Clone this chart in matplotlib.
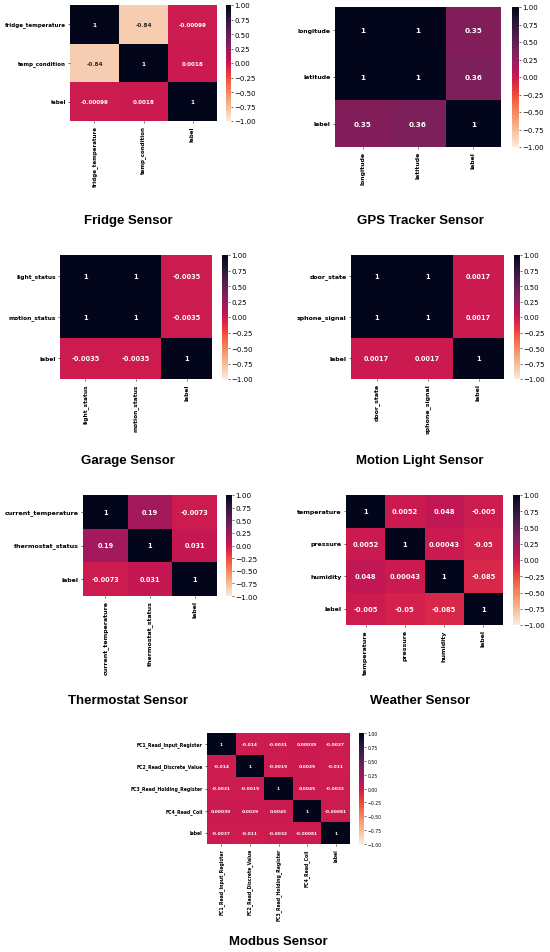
import matplotlib
matplotlib.use("Agg")
import matplotlib.pyplot as plt
import numpy as np
import seaborn as sns

W, H = 550, 953

fridge_cols = ["fridge_temperature", "temp_condition", "label"]
fridge_corr = [[1, -0.84, -0.00099],
               [-0.84, 1, 0.0018],
               [-0.00099, 0.0018, 1]]

gps_cols = ["longitude", "latitude", "label"]
gps_corr = [[1, 1, 0.35],
            [1, 1, 0.36],
            [0.35, 0.36, 1]]

garage_cols = ["light_status", "motion_status", "label"]
garage_corr = [[1, 1, -0.0035],
               [1, 1, -0.0035],
               [-0.0035, -0.0035, 1]]

motion_cols = ["door_state", "sphone_signal", "label"]
motion_corr = [[1, 1, 0.0017],
               [1, 1, 0.0017],
               [0.0017, 0.0017, 1]]

thermo_cols = ["current_temperature", "thermostat_status", "label"]
thermo_corr = [[1, 0.19, -0.0073],
               [0.19, 1, 0.031],
               [-0.0073, 0.031, 1]]

weather_cols = ["temperature", "pressure", "humidity", "label"]
weather_corr = [[1, 0.0052, 0.048, -0.005],
                [0.0052, 1, 0.00043, -0.05],
                [0.048, 0.00043, 1, -0.085],
                [-0.005, -0.05, -0.085, 1]]

modbus_cols = ["FC1_Read_Input_Register", "FC2_Read_Discrete_Value",
               "FC3_Read_Holding_Register", "FC4_Read_Coil", "label"]
modbus_corr = [[1, -0.014, -0.0031, 0.00039, -0.0037],
               [-0.014, 1, -0.0019, 0.0029, -0.011],
               [-0.0031, -0.0019, 1, 0.0045, -0.0032],
               [0.00039, 0.0029, 0.0045, 1, -0.00081],
               [-0.0037, -0.011, -0.0032, -0.00081, 1]]

titles = ["Fridge Sensor", "GPS Tracker Sensor", "Garage Sensor", "Motion Light Sensor",
          "Thermostat Sensor", "Weather Sensor", "Modbus Sensor"]


def box(x0, y0, x1, y1):
    # pixel box (top-left origin) -> figure fraction rect
    return [x0 / W, 1 - y1 / H, (x1 - x0) / W, (y1 - y0) / H]


def panel(fig, corr, cols, title, heat, cbar, tpos, fs, afs, cfs):
    ax = fig.add_axes(box(*heat))
    cax = fig.add_axes(box(*cbar))
    sns.heatmap(np.array(corr), annot=True, fmt=".2g", cmap="rocket_r", vmin=-1, vmax=1,
                xticklabels=cols, yticklabels=cols, ax=ax, cbar_ax=cax,
                annot_kws={"size": afs, "weight": "bold"})
    ax.tick_params(axis="both", length=1.5, width=0.4, pad=1.5)
    plt.setp(ax.get_xticklabels(), rotation=90, fontsize=fs, fontweight="bold")
    plt.setp(ax.get_yticklabels(), rotation=0, fontsize=fs, fontweight="bold")
    cax.set_yticks(np.arange(-1, 1.01, 0.25))
    cax.tick_params(labelsize=cfs, length=1.5, width=0.4, pad=1)
    fig.text(tpos[0] / W, 1 - tpos[1] / H, title, ha="center", va="center",
             fontsize=9.5, fontweight="bold", family="Liberation Sans")


fig = plt.figure(figsize=(W / 100, H / 100), dpi=100)

panel(fig, fridge_corr, fridge_cols, titles[0], (70, 6, 217, 122), (226, 6, 231, 122), (128, 221), 4.0, 4.1, 5.0)
panel(fig, gps_corr, gps_cols, titles[1], (335, 8, 501, 148), (512, 8, 519, 148), (420, 221), 4.4, 5.2, 5.0)
panel(fig, garage_corr, garage_cols, titles[2], (60, 256, 212, 380), (222, 256, 228, 380), (128, 461), 4.2, 4.8, 5.0)
panel(fig, motion_corr, motion_cols, titles[3], (351, 256, 504, 380), (514, 256, 520, 380), (420, 461), 4.5, 4.7, 5.0)
panel(fig, thermo_corr, thermo_cols, titles[4], (83, 496, 217, 597), (226, 496, 232, 597), (128, 701), 4.5, 4.7, 5.2)
panel(fig, weather_corr, weather_cols, titles[5], (346, 496, 503, 626), (513, 496, 520, 626), (420, 701), 4.5, 4.9, 5.0)
panel(fig, modbus_corr, modbus_cols, titles[6], (207, 734, 350, 845), (359, 734, 364, 845), (278, 942), 3.3, 3.2, 3.3)

fig.savefig("out.png", dpi=100)
